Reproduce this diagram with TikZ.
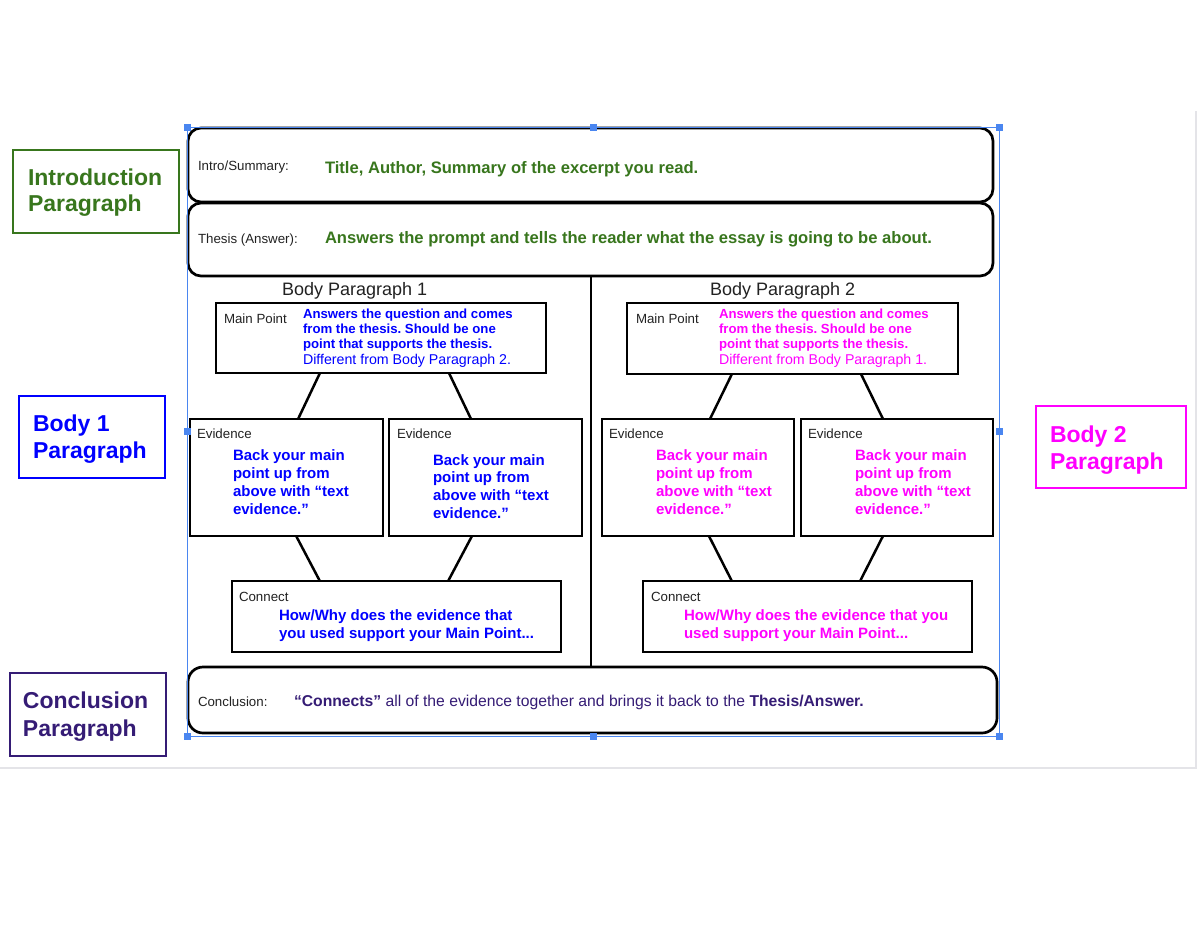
\documentclass[tikz,border=0pt]{standalone}
\usepackage{fontspec}
\setmainfont{Liberation Sans}
\usetikzlibrary{calc}
\definecolor{dgreen}{HTML}{38761D}
\definecolor{dpurple}{HTML}{351C75}
\definecolor{selblue}{HTML}{4A86F0}
\definecolor{mag}{HTML}{FF00FF}
\definecolor{labgrey}{HTML}{222222}
\definecolor{pagegrey}{HTML}{E4E4E8}
\newcommand\fs[2]{\fontsize{#1}{#2}\selectfont}
\newcommand\vl[2]{\vtop{\baselineskip=#1\lineskiplimit=-50pt\lineskip=0pt\relax #2}}
\frenchspacing
\begin{document}
\begin{tikzpicture}[x=1pt,y=-1pt,
  rbox/.style={draw=black, line width=2.7pt, rounded corners=13pt, inner sep=0pt, outer sep=0pt, anchor=north west},
  sbox/.style={draw=black, line width=2.6pt, inner sep=0pt, outer sep=0pt, anchor=north west},
  tagbox/.style={draw, line width=2.8pt, inner sep=0pt, outer sep=0pt, anchor=north west},
  tagtext/.style={inner sep=0pt, outer sep=0pt, anchor=base west, font=\bfseries\fs{23}{27}},
  lab/.style={inner sep=0pt, outer sep=0pt, anchor=base west, text=labgrey, font=\fs{13.3}{15}},
  head/.style={inner sep=0pt, outer sep=0pt, anchor=base west, text=labgrey, font=\fs{18}{21}},
  gtext/.style={inner sep=0pt, outer sep=0pt, anchor=base west, text=dgreen, font=\bfseries\fs{16.6}{19}},
  mtext/.style={inner sep=0pt, outer sep=0pt, anchor=base west, font=\fs{13.2}{15.3}},
  etext/.style={inner sep=0pt, outer sep=0pt, anchor=base west, font=\bfseries\fs{15}{17.8}},
  conn/.style={line width=2.5pt},
  handle/.style={fill=selblue}
]
\useasboundingbox (0,0) rectangle (1200,927);
\fill[white] (0,0) rectangle (1200,927);
% page edge
\draw[pagegrey, line width=1.5pt] (0,768) -- (1196,768) -- (1196,111);

% side tags
\node[tagbox, draw=dgreen, minimum width=166pt, minimum height=83pt] (tagI) at (13,150) {};
\node[tagtext, text=dgreen] (tagIt) at (28,185) {\vl{26.5pt}{\hbox{Introduction}\hbox{Paragraph}}};
\node[tagbox, draw=blue, minimum width=146pt, minimum height=82pt] (tagB1) at (19,396) {};
\node[tagtext, text=blue] (tagB1t) at (33,431) {\vl{27pt}{\hbox{Body 1}\hbox{Paragraph}}};
\node[tagbox, draw=dpurple, minimum width=156pt, minimum height=83pt] (tagC) at (10,673) {};
\node[tagtext, text=dpurple] (tagCt) at (23,708) {\vl{28pt}{\hbox{Conclusion}\hbox{Paragraph}}};
\node[tagbox, draw=mag, minimum width=150pt, minimum height=82pt] (tagB2) at (1036,406) {};
\node[tagtext, text=mag] (tagB2t) at (1050,442) {\vl{27pt}{\hbox{Body 2}\hbox{Paragraph}}};

% intro and thesis
\node[rbox, minimum width=805pt, minimum height=74pt] (intro) at (188,128) {};
\node[rbox, minimum width=805pt, minimum height=73pt] (thesis) at (188,203) {};
\node[lab] (introL) at (198,170) {Intro/Summary:};
\node[gtext] (introT) at (325,173) {Title, Author, Summary of the excerpt you read.};
\node[lab] (thesisL) at (198,243) {Thesis (Answer):};
\node[gtext] (thesisT) at (325,243) {Answers the prompt and tells the reader what the essay is going to be about.};

% conclusion
\node[rbox, rounded corners=15pt, minimum width=809pt, minimum height=66pt] (concl) at (188,667) {};
\node[lab] (conclL) at (198,706) {Conclusion:};
\node[inner sep=0pt, outer sep=0pt, anchor=base west, text=dpurple, font=\fs{15.7}{18}] (conclT) at (294,706) {\textbf{“Connects”} all of the evidence together and brings it back to the \textbf{Thesis/Answer.}};

% divider
\draw[line width=2pt] (thesis.south) -- (thesis.south |- concl.north);

% headings
\node[head] (h1) at (282,295) {Body Paragraph 1};
\node[head] (h2) at (710,295) {Body Paragraph 2};

% body 1 boxes
\node[sbox, minimum width=330pt, minimum height=70pt] (mp1) at (216,303) {};
\node[sbox, minimum width=193pt, minimum height=117pt] (ev1a) at (190,419) {};
\node[sbox, minimum width=193pt, minimum height=117pt] (ev1b) at (389,419) {};
\node[sbox, minimum width=329pt, minimum height=71pt] (cn1) at (232,581) {};
% body 2 boxes
\node[sbox, minimum width=331pt, minimum height=71pt] (mp2) at (627,303) {};
\node[sbox, minimum width=192pt, minimum height=117pt] (ev2a) at (602,419) {};
\node[sbox, minimum width=192pt, minimum height=117pt] (ev2b) at (801,419) {};
\node[sbox, minimum width=329pt, minimum height=71pt] (cn2) at (643,581) {};

% connectors body 1
\draw[conn] ($(mp1.south west)!0.315!(mp1.south east)$) -- ($(ev1a.north west)!0.56!(ev1a.north east)$);
\draw[conn] ($(mp1.south west)!0.706!(mp1.south east)$) -- ($(ev1b.north west)!0.425!(ev1b.north east)$);
\draw[conn] ($(ev1a.south west)!0.55!(ev1a.south east)$) -- ($(cn1.north west)!0.267!(cn1.north east)$);
\draw[conn] ($(ev1b.south west)!0.43!(ev1b.south east)$) -- ($(cn1.north west)!0.657!(cn1.north east)$);
% connectors body 2
\draw[conn] ($(mp2.south west)!0.317!(mp2.south east)$) -- ($(ev2a.north west)!0.5625!(ev2a.north east)$);
\draw[conn] ($(mp2.south west)!0.707!(mp2.south east)$) -- ($(ev2b.north west)!0.427!(ev2b.north east)$);
\draw[conn] ($(ev2a.south west)!0.557!(ev2a.south east)$) -- ($(cn2.north west)!0.27!(cn2.north east)$);
\draw[conn] ($(ev2b.south west)!0.427!(ev2b.south east)$) -- ($(cn2.north west)!0.66!(cn2.north east)$);

% labels body 1
\node[lab] (mp1L) at (224,323) {Main Point};
\node[mtext, text=blue] (mp1T) at (303,318.3) {\vl{15.3pt}{\hbox{\bfseries Answers the question and comes}\hbox{\bfseries from the thesis. Should be one}\hbox{\bfseries point that supports the thesis.}\hbox{\fs{14.2}{15}Different from Body Paragraph 2.}}};
\node[lab] (ev1aL) at (197,438) {Evidence};
\node[etext, text=blue] (ev1aT) at (233,460.7) {\vl{17.8pt}{\hbox{Back your main}\hbox{point up from}\hbox{above with “text}\hbox{evidence.”}}};
\node[lab] (ev1bL) at (397,438) {Evidence};
\node[etext, text=blue] (ev1bT) at (433,465) {\vl{17.8pt}{\hbox{Back your main}\hbox{point up from}\hbox{above with “text}\hbox{evidence."}}};
\node[lab] (cn1L) at (239,601) {Connect};
\node[etext, text=blue] (cn1T) at (279,620) {\vl{18.3pt}{\hbox{How/Why does the evidence that}\hbox{you used support your Main Point...}}};

% labels body 2
\node[lab] (mp2L) at (636,323) {Main Point};
\node[mtext, text=mag] (mp2T) at (719,318.3) {\vl{15.3pt}{\hbox{\bfseries Answers the question and comes}\hbox{\bfseries from the thesis. Should be one}\hbox{\bfseries point that supports the thesis.}\hbox{\fs{14.2}{15}Different from Body Paragraph 1.}}};
\node[lab] (ev2aL) at (609,438) {Evidence};
\node[etext, text=mag] (ev2aT) at (656,460.7) {\vl{17.8pt}{\hbox{Back your main}\hbox{point up from}\hbox{above with “text}\hbox{evidence.”}}};
\node[lab] (ev2bL) at (808,438) {Evidence};
\node[etext, text=mag] (ev2bT) at (855,460.7) {\vl{17.8pt}{\hbox{Back your main}\hbox{point up from}\hbox{above with “text}\hbox{evidence.”}}};
\node[lab] (cn2L) at (651,601) {Connect};
\node[etext, text=mag] (cn2T) at (684,620) {\vl{18.3pt}{\hbox{How/Why does the evidence that you}\hbox{used support your Main Point...}}};

% selection frame
\draw[selblue, line width=1pt] (187,127) rectangle (999,736);
\foreach \hx/\hy in {187/127, 593/127, 999/127, 187/431, 999/431, 187/736, 593/736, 999/736}
  \fill[handle] (\hx-3.5,\hy-3.5) rectangle (\hx+3.5,\hy+3.5);
\end{tikzpicture}
\end{document}
